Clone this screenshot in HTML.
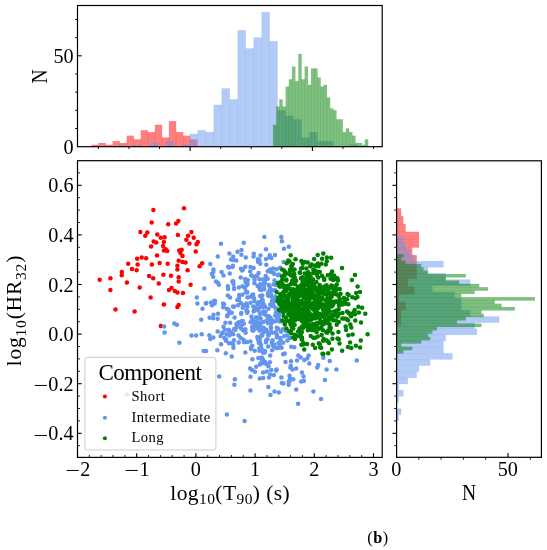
<!DOCTYPE html>
<html><head><meta charset="utf-8"><title>Figure (b)</title>
<style>html,body{margin:0;padding:0;background:#fff}svg{display:block}text{font-family:"Liberation Serif", "DejaVu Serif", serif;fill:#000}</style>
</head><body>
<svg width="547" height="550" viewBox="0 0 547 550">
<rect width="547" height="550" fill="#fff"/>
<g fill="#ff0000" fill-opacity="0.5" stroke="#ff0000" stroke-opacity="0.18" stroke-width="0.5"><rect x="91.60" y="144.88" width="7.04" height="1.82"/><rect x="98.64" y="143.06" width="7.04" height="3.64"/><rect x="105.68" y="144.88" width="7.04" height="1.82"/><rect x="112.72" y="141.25" width="7.04" height="5.45"/><rect x="119.76" y="143.06" width="7.04" height="3.64"/><rect x="126.80" y="135.79" width="7.04" height="10.91"/><rect x="133.84" y="139.43" width="7.04" height="7.27"/><rect x="140.88" y="130.34" width="7.04" height="16.36"/><rect x="147.92" y="132.16" width="7.04" height="14.54"/><rect x="154.96" y="124.88" width="7.04" height="21.82"/><rect x="162.00" y="137.61" width="7.04" height="9.09"/><rect x="169.04" y="121.25" width="7.04" height="25.45"/><rect x="176.08" y="132.16" width="7.04" height="14.54"/><rect x="183.12" y="135.79" width="7.04" height="10.91"/><rect x="190.16" y="139.43" width="7.04" height="7.27"/></g>
<g fill="#6495ed" fill-opacity="0.5" stroke="#6495ed" stroke-opacity="0.18" stroke-width="0.5"><rect x="118.00" y="144.88" width="7.98" height="1.82"/><rect x="133.96" y="144.88" width="7.98" height="1.82"/><rect x="149.92" y="143.06" width="7.98" height="3.64"/><rect x="165.88" y="141.25" width="7.98" height="5.45"/><rect x="181.84" y="144.88" width="7.98" height="1.82"/><rect x="189.82" y="133.97" width="7.98" height="12.73"/><rect x="197.80" y="130.34" width="7.98" height="16.36"/><rect x="205.78" y="132.16" width="7.98" height="14.54"/><rect x="213.76" y="104.89" width="7.98" height="41.81"/><rect x="221.74" y="88.52" width="7.98" height="58.18"/><rect x="229.72" y="99.43" width="7.98" height="47.27"/><rect x="237.70" y="30.35" width="7.98" height="116.35"/><rect x="245.68" y="48.53" width="7.98" height="98.17"/><rect x="253.66" y="37.62" width="7.98" height="109.08"/><rect x="261.64" y="12.17" width="7.98" height="134.53"/><rect x="269.62" y="41.26" width="7.98" height="105.44"/><rect x="277.60" y="110.34" width="7.98" height="36.36"/><rect x="285.58" y="115.79" width="7.98" height="30.91"/><rect x="293.56" y="119.43" width="7.98" height="27.27"/><rect x="301.54" y="137.61" width="7.98" height="9.09"/><rect x="309.52" y="132.16" width="7.98" height="14.54"/><rect x="317.50" y="141.25" width="7.98" height="5.45"/><rect x="325.48" y="141.25" width="7.98" height="5.45"/><rect x="349.42" y="144.88" width="7.98" height="1.82"/></g>
<g fill="#008000" fill-opacity="0.5" stroke="#008000" stroke-opacity="0.18" stroke-width="0.5"><rect x="273.10" y="124.88" width="3.17" height="21.82"/><rect x="276.27" y="106.70" width="3.17" height="40.00"/><rect x="279.43" y="99.43" width="3.17" height="47.27"/><rect x="282.60" y="106.70" width="3.17" height="40.00"/><rect x="285.77" y="86.71" width="3.17" height="59.99"/><rect x="288.94" y="79.43" width="3.17" height="67.27"/><rect x="292.10" y="66.71" width="3.17" height="79.99"/><rect x="295.27" y="81.25" width="3.17" height="65.45"/><rect x="298.44" y="53.98" width="3.17" height="92.72"/><rect x="301.60" y="79.43" width="3.17" height="67.27"/><rect x="304.77" y="66.71" width="3.17" height="79.99"/><rect x="307.94" y="84.89" width="3.17" height="61.81"/><rect x="311.10" y="68.53" width="3.17" height="78.17"/><rect x="314.27" y="68.53" width="3.17" height="78.17"/><rect x="317.44" y="77.62" width="3.17" height="69.08"/><rect x="320.61" y="86.71" width="3.17" height="59.99"/><rect x="323.77" y="84.89" width="3.17" height="61.81"/><rect x="326.94" y="97.61" width="3.17" height="49.09"/><rect x="330.11" y="108.52" width="3.17" height="38.18"/><rect x="333.27" y="110.34" width="3.17" height="36.36"/><rect x="336.44" y="119.43" width="3.17" height="27.27"/><rect x="339.61" y="119.43" width="3.17" height="27.27"/><rect x="342.77" y="132.16" width="3.17" height="14.54"/><rect x="345.94" y="128.52" width="3.17" height="18.18"/><rect x="349.11" y="132.16" width="3.17" height="14.54"/><rect x="352.28" y="135.79" width="3.17" height="10.91"/><rect x="355.44" y="143.06" width="3.17" height="3.64"/><rect x="358.61" y="143.06" width="3.17" height="3.64"/><rect x="361.78" y="144.88" width="3.17" height="1.82"/><rect x="364.94" y="139.43" width="3.17" height="7.27"/></g>
<g fill="#ff0000" fill-opacity="0.5" stroke="#ff0000" stroke-opacity="0.18" stroke-width="0.5"><rect x="396.60" y="208.50" width="4.46" height="7.80"/><rect x="396.60" y="216.30" width="6.69" height="7.80"/><rect x="396.60" y="224.10" width="8.92" height="7.80"/><rect x="396.60" y="231.90" width="22.30" height="7.80"/><rect x="396.60" y="239.70" width="22.30" height="7.80"/><rect x="396.60" y="247.50" width="15.61" height="7.80"/><rect x="396.60" y="255.30" width="20.07" height="7.80"/><rect x="396.60" y="263.10" width="20.07" height="7.80"/><rect x="396.60" y="270.90" width="20.07" height="7.80"/><rect x="396.60" y="278.70" width="11.15" height="7.80"/><rect x="396.60" y="286.50" width="17.84" height="7.80"/><rect x="396.60" y="294.30" width="2.23" height="7.80"/><rect x="396.60" y="302.10" width="8.92" height="7.80"/><rect x="396.60" y="309.90" width="4.46" height="7.80"/><rect x="396.60" y="317.70" width="4.46" height="7.80"/></g>
<g fill="#6495ed" fill-opacity="0.5" stroke="#6495ed" stroke-opacity="0.18" stroke-width="0.5"><rect x="396.60" y="236.60" width="6.69" height="6.14"/><rect x="396.60" y="242.74" width="8.92" height="6.14"/><rect x="396.60" y="248.89" width="13.38" height="6.14"/><rect x="396.60" y="255.03" width="17.84" height="6.14"/><rect x="396.60" y="261.17" width="46.83" height="6.14"/><rect x="396.60" y="267.31" width="31.22" height="6.14"/><rect x="396.60" y="273.46" width="49.06" height="6.14"/><rect x="396.60" y="279.60" width="73.59" height="6.14"/><rect x="396.60" y="285.74" width="35.68" height="6.14"/><rect x="396.60" y="291.89" width="57.98" height="6.14"/><rect x="396.60" y="298.03" width="64.67" height="6.14"/><rect x="396.60" y="304.17" width="64.67" height="6.14"/><rect x="396.60" y="310.32" width="73.59" height="6.14"/><rect x="396.60" y="316.46" width="102.58" height="6.14"/><rect x="396.60" y="322.60" width="78.05" height="6.14"/><rect x="396.60" y="328.75" width="80.28" height="6.14"/><rect x="396.60" y="334.89" width="49.06" height="6.14"/><rect x="396.60" y="341.03" width="46.83" height="6.14"/><rect x="396.60" y="347.17" width="46.83" height="6.14"/><rect x="396.60" y="353.32" width="55.75" height="6.14"/><rect x="396.60" y="359.46" width="33.45" height="6.14"/><rect x="396.60" y="365.60" width="22.30" height="6.14"/><rect x="396.60" y="371.75" width="20.07" height="6.14"/><rect x="396.60" y="377.89" width="11.15" height="6.14"/><rect x="396.60" y="384.03" width="2.23" height="6.14"/><rect x="396.60" y="390.17" width="6.69" height="6.14"/><rect x="396.60" y="396.32" width="2.23" height="6.14"/><rect x="396.60" y="408.60" width="4.46" height="6.14"/><rect x="396.60" y="414.75" width="2.23" height="6.14"/></g>
<g fill="#008000" fill-opacity="0.5" stroke="#008000" stroke-opacity="0.18" stroke-width="0.5"><rect x="396.60" y="254.20" width="6.69" height="3.31"/><rect x="396.60" y="257.51" width="4.46" height="3.31"/><rect x="396.60" y="260.81" width="8.92" height="3.31"/><rect x="396.60" y="264.12" width="24.53" height="3.31"/><rect x="396.60" y="267.43" width="26.76" height="3.31"/><rect x="396.60" y="270.74" width="31.22" height="3.31"/><rect x="396.60" y="274.04" width="69.13" height="3.31"/><rect x="396.60" y="277.35" width="49.06" height="3.31"/><rect x="396.60" y="280.66" width="62.44" height="3.31"/><rect x="396.60" y="283.96" width="82.51" height="3.31"/><rect x="396.60" y="287.27" width="91.43" height="3.31"/><rect x="396.60" y="290.58" width="78.05" height="3.31"/><rect x="396.60" y="293.88" width="64.67" height="3.31"/><rect x="396.60" y="297.19" width="138.26" height="3.31"/><rect x="396.60" y="300.50" width="98.12" height="3.31"/><rect x="396.60" y="303.81" width="104.81" height="3.31"/><rect x="396.60" y="307.11" width="118.19" height="3.31"/><rect x="396.60" y="310.42" width="84.74" height="3.31"/><rect x="396.60" y="313.73" width="86.97" height="3.31"/><rect x="396.60" y="317.03" width="69.13" height="3.31"/><rect x="396.60" y="320.34" width="60.21" height="3.31"/><rect x="396.60" y="323.65" width="84.74" height="3.31"/><rect x="396.60" y="326.95" width="40.14" height="3.31"/><rect x="396.60" y="330.26" width="35.68" height="3.31"/><rect x="396.60" y="333.57" width="31.22" height="3.31"/><rect x="396.60" y="336.88" width="33.45" height="3.31"/><rect x="396.60" y="340.18" width="24.53" height="3.31"/><rect x="396.60" y="343.49" width="4.46" height="3.31"/><rect x="396.60" y="346.80" width="15.61" height="3.31"/><rect x="396.60" y="350.10" width="6.69" height="3.31"/></g>
<g fill="#ff0000"><circle cx="153.4" cy="210.0" r="2.25"/><circle cx="184.0" cy="208.2" r="2.25"/><circle cx="151.7" cy="222.5" r="2.25"/><circle cx="168.2" cy="224.3" r="2.25"/><circle cx="178.4" cy="221.0" r="2.25"/><circle cx="176.1" cy="223.5" r="2.25"/><circle cx="140.4" cy="231.9" r="2.25"/><circle cx="147.3" cy="232.5" r="2.25"/><circle cx="145.3" cy="235.8" r="2.25"/><circle cx="157.3" cy="234.5" r="2.25"/><circle cx="160.8" cy="237.8" r="2.25"/><circle cx="164.6" cy="237.3" r="2.25"/><circle cx="177.9" cy="235.0" r="2.25"/><circle cx="191.4" cy="231.9" r="2.25"/><circle cx="188.1" cy="235.8" r="2.25"/><circle cx="193.7" cy="237.8" r="2.25"/><circle cx="186.3" cy="239.8" r="2.25"/><circle cx="189.4" cy="243.4" r="2.25"/><circle cx="197.8" cy="242.1" r="2.25"/><circle cx="196.5" cy="244.2" r="2.25"/><circle cx="153.7" cy="241.6" r="2.25"/><circle cx="156.2" cy="242.6" r="2.25"/><circle cx="163.9" cy="242.1" r="2.25"/><circle cx="151.1" cy="246.5" r="2.25"/><circle cx="163.1" cy="246.0" r="2.25"/><circle cx="165.7" cy="249.3" r="2.25"/><circle cx="167.2" cy="251.1" r="2.25"/><circle cx="163.9" cy="250.5" r="2.25"/><circle cx="179.2" cy="250.5" r="2.25"/><circle cx="181.7" cy="249.8" r="2.25"/><circle cx="180.4" cy="253.1" r="2.25"/><circle cx="195.7" cy="251.6" r="2.25"/><circle cx="157.0" cy="255.6" r="2.25"/><circle cx="182.5" cy="256.1" r="2.25"/><circle cx="137.1" cy="258.7" r="2.25"/><circle cx="141.7" cy="257.4" r="2.25"/><circle cx="146.1" cy="258.2" r="2.25"/><circle cx="178.7" cy="260.7" r="2.25"/><circle cx="182.5" cy="262.0" r="2.25"/><circle cx="185.5" cy="262.5" r="2.25"/><circle cx="128.2" cy="263.8" r="2.25"/><circle cx="137.6" cy="264.6" r="2.25"/><circle cx="151.9" cy="264.6" r="2.25"/><circle cx="159.6" cy="263.0" r="2.25"/><circle cx="167.7" cy="263.8" r="2.25"/><circle cx="177.4" cy="265.8" r="2.25"/><circle cx="202.1" cy="263.3" r="2.25"/><circle cx="199.6" cy="266.3" r="2.25"/><circle cx="132.0" cy="268.9" r="2.25"/><circle cx="136.6" cy="270.2" r="2.25"/><circle cx="177.4" cy="269.4" r="2.25"/><circle cx="187.6" cy="270.2" r="2.25"/><circle cx="121.8" cy="271.9" r="2.25"/><circle cx="121.8" cy="275.3" r="2.25"/><circle cx="149.1" cy="276.0" r="2.25"/><circle cx="153.2" cy="278.3" r="2.25"/><circle cx="163.4" cy="274.7" r="2.25"/><circle cx="171.0" cy="275.8" r="2.25"/><circle cx="178.7" cy="277.3" r="2.25"/><circle cx="99.7" cy="279.8" r="2.25"/><circle cx="110.4" cy="278.3" r="2.25"/><circle cx="126.9" cy="282.4" r="2.25"/><circle cx="158.8" cy="283.4" r="2.25"/><circle cx="178.7" cy="281.6" r="2.25"/><circle cx="190.6" cy="284.7" r="2.25"/><circle cx="110.4" cy="290.0" r="2.25"/><circle cx="139.7" cy="287.5" r="2.25"/><circle cx="169.0" cy="290.0" r="2.25"/><circle cx="171.5" cy="288.0" r="2.25"/><circle cx="174.8" cy="291.1" r="2.25"/><circle cx="177.4" cy="292.6" r="2.25"/><circle cx="183.0" cy="293.1" r="2.25"/><circle cx="150.6" cy="297.4" r="2.25"/><circle cx="163.9" cy="304.6" r="2.25"/><circle cx="178.7" cy="305.1" r="2.25"/><circle cx="177.4" cy="307.1" r="2.25"/><circle cx="115.5" cy="309.6" r="2.25"/><circle cx="134.6" cy="311.4" r="2.25"/><circle cx="160.8" cy="326.0" r="2.25"/></g>
<g fill="#6495ed"><circle cx="267.5" cy="339.3" r="2.25"/><circle cx="269.8" cy="287.1" r="2.25"/><circle cx="244.9" cy="288.1" r="2.25"/><circle cx="271.2" cy="323.5" r="2.25"/><circle cx="253.5" cy="256.4" r="2.25"/><circle cx="253.7" cy="311.4" r="2.25"/><circle cx="265.0" cy="306.7" r="2.25"/><circle cx="281.9" cy="241.3" r="2.25"/><circle cx="255.0" cy="371.7" r="2.25"/><circle cx="252.4" cy="359.2" r="2.25"/><circle cx="211.8" cy="273.9" r="2.25"/><circle cx="260.3" cy="313.7" r="2.25"/><circle cx="247.6" cy="283.9" r="2.25"/><circle cx="251.3" cy="275.4" r="2.25"/><circle cx="218.9" cy="284.8" r="2.25"/><circle cx="283.4" cy="383.5" r="2.25"/><circle cx="266.1" cy="340.4" r="2.25"/><circle cx="242.7" cy="321.1" r="2.25"/><circle cx="263.8" cy="352.3" r="2.25"/><circle cx="270.2" cy="374.5" r="2.25"/><circle cx="246.8" cy="305.1" r="2.25"/><circle cx="272.1" cy="332.8" r="2.25"/><circle cx="260.9" cy="363.2" r="2.25"/><circle cx="272.1" cy="301.4" r="2.25"/><circle cx="291.0" cy="361.2" r="2.25"/><circle cx="296.2" cy="389.4" r="2.25"/><circle cx="261.7" cy="358.9" r="2.25"/><circle cx="292.6" cy="369.6" r="2.25"/><circle cx="238.7" cy="322.2" r="2.25"/><circle cx="252.4" cy="329.5" r="2.25"/><circle cx="217.6" cy="318.7" r="2.25"/><circle cx="260.1" cy="296.0" r="2.25"/><circle cx="250.2" cy="271.5" r="2.25"/><circle cx="260.0" cy="337.8" r="2.25"/><circle cx="239.0" cy="297.8" r="2.25"/><circle cx="231.7" cy="356.6" r="2.25"/><circle cx="247.3" cy="306.8" r="2.25"/><circle cx="260.7" cy="318.8" r="2.25"/><circle cx="228.8" cy="329.8" r="2.25"/><circle cx="254.4" cy="283.2" r="2.25"/><circle cx="233.2" cy="344.2" r="2.25"/><circle cx="233.4" cy="347.7" r="2.25"/><circle cx="274.5" cy="280.6" r="2.25"/><circle cx="276.1" cy="370.5" r="2.25"/><circle cx="257.1" cy="275.9" r="2.25"/><circle cx="257.3" cy="325.5" r="2.25"/><circle cx="238.7" cy="342.6" r="2.25"/><circle cx="252.2" cy="345.7" r="2.25"/><circle cx="242.4" cy="286.2" r="2.25"/><circle cx="268.2" cy="346.6" r="2.25"/><circle cx="274.3" cy="273.9" r="2.25"/><circle cx="210.2" cy="339.1" r="2.25"/><circle cx="254.6" cy="279.7" r="2.25"/><circle cx="229.8" cy="273.4" r="2.25"/><circle cx="253.8" cy="253.7" r="2.25"/><circle cx="267.9" cy="320.1" r="2.25"/><circle cx="266.8" cy="364.2" r="2.25"/><circle cx="266.3" cy="264.8" r="2.25"/><circle cx="253.6" cy="268.1" r="2.25"/><circle cx="289.4" cy="381.4" r="2.25"/><circle cx="250.2" cy="297.1" r="2.25"/><circle cx="230.1" cy="334.0" r="2.25"/><circle cx="277.1" cy="336.0" r="2.25"/><circle cx="213.3" cy="337.4" r="2.25"/><circle cx="262.1" cy="328.6" r="2.25"/><circle cx="263.2" cy="311.6" r="2.25"/><circle cx="278.4" cy="329.0" r="2.25"/><circle cx="247.5" cy="280.1" r="2.25"/><circle cx="260.1" cy="307.2" r="2.25"/><circle cx="318.2" cy="365.0" r="2.25"/><circle cx="240.8" cy="303.1" r="2.25"/><circle cx="271.1" cy="296.0" r="2.25"/><circle cx="266.9" cy="371.5" r="2.25"/><circle cx="261.0" cy="349.0" r="2.25"/><circle cx="216.0" cy="281.5" r="2.25"/><circle cx="209.6" cy="317.7" r="2.25"/><circle cx="240.7" cy="277.5" r="2.25"/><circle cx="285.5" cy="361.9" r="2.25"/><circle cx="256.4" cy="322.0" r="2.25"/><circle cx="279.7" cy="344.7" r="2.25"/><circle cx="234.0" cy="340.3" r="2.25"/><circle cx="238.9" cy="287.6" r="2.25"/><circle cx="234.4" cy="384.7" r="2.25"/><circle cx="276.5" cy="269.2" r="2.25"/><circle cx="234.1" cy="329.0" r="2.25"/><circle cx="258.0" cy="261.7" r="2.25"/><circle cx="294.3" cy="347.3" r="2.25"/><circle cx="243.1" cy="330.3" r="2.25"/><circle cx="250.4" cy="390.4" r="2.25"/><circle cx="257.8" cy="309.6" r="2.25"/><circle cx="256.2" cy="366.8" r="2.25"/><circle cx="213.1" cy="318.2" r="2.25"/><circle cx="275.7" cy="321.2" r="2.25"/><circle cx="244.1" cy="342.2" r="2.25"/><circle cx="241.0" cy="328.2" r="2.25"/><circle cx="254.1" cy="298.3" r="2.25"/><circle cx="263.0" cy="359.7" r="2.25"/><circle cx="241.3" cy="325.9" r="2.25"/><circle cx="237.3" cy="300.0" r="2.25"/><circle cx="267.8" cy="271.2" r="2.25"/><circle cx="259.5" cy="279.2" r="2.25"/><circle cx="247.4" cy="297.4" r="2.25"/><circle cx="250.6" cy="302.8" r="2.25"/><circle cx="234.9" cy="379.2" r="2.25"/><circle cx="246.7" cy="285.2" r="2.25"/><circle cx="263.2" cy="377.9" r="2.25"/><circle cx="253.3" cy="306.4" r="2.25"/><circle cx="263.1" cy="372.5" r="2.25"/><circle cx="270.4" cy="271.6" r="2.25"/><circle cx="221.1" cy="344.3" r="2.25"/><circle cx="263.2" cy="322.0" r="2.25"/><circle cx="210.3" cy="264.0" r="2.25"/><circle cx="275.1" cy="290.2" r="2.25"/><circle cx="228.2" cy="266.7" r="2.25"/><circle cx="214.3" cy="300.8" r="2.25"/><circle cx="226.7" cy="308.8" r="2.25"/><circle cx="262.3" cy="295.4" r="2.25"/><circle cx="228.1" cy="289.1" r="2.25"/><circle cx="227.9" cy="286.3" r="2.25"/><circle cx="213.5" cy="269.6" r="2.25"/><circle cx="238.4" cy="323.2" r="2.25"/><circle cx="225.9" cy="339.3" r="2.25"/><circle cx="242.8" cy="307.8" r="2.25"/><circle cx="227.2" cy="316.3" r="2.25"/><circle cx="236.4" cy="324.1" r="2.25"/><circle cx="265.5" cy="331.0" r="2.25"/><circle cx="232.9" cy="265.7" r="2.25"/><circle cx="272.6" cy="290.3" r="2.25"/><circle cx="283.2" cy="342.7" r="2.25"/><circle cx="269.9" cy="362.2" r="2.25"/><circle cx="279.2" cy="315.0" r="2.25"/><circle cx="259.6" cy="317.7" r="2.25"/><circle cx="266.3" cy="329.8" r="2.25"/><circle cx="222.2" cy="332.8" r="2.25"/><circle cx="288.8" cy="246.7" r="2.25"/><circle cx="257.9" cy="259.3" r="2.25"/><circle cx="269.9" cy="322.4" r="2.25"/><circle cx="255.9" cy="327.8" r="2.25"/><circle cx="240.9" cy="268.7" r="2.25"/><circle cx="223.0" cy="303.5" r="2.25"/><circle cx="279.6" cy="321.6" r="2.25"/><circle cx="272.6" cy="340.2" r="2.25"/><circle cx="243.6" cy="339.7" r="2.25"/><circle cx="260.1" cy="324.6" r="2.25"/><circle cx="254.1" cy="310.1" r="2.25"/><circle cx="229.4" cy="335.6" r="2.25"/><circle cx="227.5" cy="315.3" r="2.25"/><circle cx="273.7" cy="306.0" r="2.25"/><circle cx="261.5" cy="348.6" r="2.25"/><circle cx="261.1" cy="345.0" r="2.25"/><circle cx="260.5" cy="255.4" r="2.25"/><circle cx="263.6" cy="307.1" r="2.25"/><circle cx="272.1" cy="321.4" r="2.25"/><circle cx="264.8" cy="352.5" r="2.25"/><circle cx="303.9" cy="380.9" r="2.25"/><circle cx="257.4" cy="304.1" r="2.25"/><circle cx="250.4" cy="341.6" r="2.25"/><circle cx="250.1" cy="368.6" r="2.25"/><circle cx="260.4" cy="325.7" r="2.25"/><circle cx="265.7" cy="276.0" r="2.25"/><circle cx="253.3" cy="320.0" r="2.25"/><circle cx="278.5" cy="343.0" r="2.25"/><circle cx="231.5" cy="343.3" r="2.25"/><circle cx="254.4" cy="301.3" r="2.25"/><circle cx="243.1" cy="305.0" r="2.25"/><circle cx="276.0" cy="312.6" r="2.25"/><circle cx="268.3" cy="387.0" r="2.25"/><circle cx="245.4" cy="329.3" r="2.25"/><circle cx="276.6" cy="369.6" r="2.25"/><circle cx="247.3" cy="311.2" r="2.25"/><circle cx="259.3" cy="285.9" r="2.25"/><circle cx="263.0" cy="330.0" r="2.25"/><circle cx="264.2" cy="289.3" r="2.25"/><circle cx="281.6" cy="347.8" r="2.25"/><circle cx="247.7" cy="280.5" r="2.25"/><circle cx="284.0" cy="248.8" r="2.25"/><circle cx="277.1" cy="337.3" r="2.25"/><circle cx="253.5" cy="330.4" r="2.25"/><circle cx="273.0" cy="321.7" r="2.25"/><circle cx="242.3" cy="294.7" r="2.25"/><circle cx="264.7" cy="279.8" r="2.25"/><circle cx="269.9" cy="290.1" r="2.25"/><circle cx="239.0" cy="299.8" r="2.25"/><circle cx="224.4" cy="338.0" r="2.25"/><circle cx="215.1" cy="300.9" r="2.25"/><circle cx="257.5" cy="318.0" r="2.25"/><circle cx="254.7" cy="350.7" r="2.25"/><circle cx="280.4" cy="338.0" r="2.25"/><circle cx="278.1" cy="275.3" r="2.25"/><circle cx="270.2" cy="355.4" r="2.25"/><circle cx="259.0" cy="322.4" r="2.25"/><circle cx="273.4" cy="272.9" r="2.25"/><circle cx="267.7" cy="278.7" r="2.25"/><circle cx="233.1" cy="306.4" r="2.25"/><circle cx="276.6" cy="334.5" r="2.25"/><circle cx="281.4" cy="377.6" r="2.25"/><circle cx="268.8" cy="320.0" r="2.25"/><circle cx="297.0" cy="360.4" r="2.25"/><circle cx="265.7" cy="279.1" r="2.25"/><circle cx="253.8" cy="321.5" r="2.25"/><circle cx="271.3" cy="257.9" r="2.25"/><circle cx="284.8" cy="353.4" r="2.25"/><circle cx="290.0" cy="378.5" r="2.25"/><circle cx="234.1" cy="306.8" r="2.25"/><circle cx="262.2" cy="335.3" r="2.25"/><circle cx="276.2" cy="316.2" r="2.25"/><circle cx="229.1" cy="330.6" r="2.25"/><circle cx="257.8" cy="338.7" r="2.25"/><circle cx="272.7" cy="305.5" r="2.25"/><circle cx="242.5" cy="269.7" r="2.25"/><circle cx="231.0" cy="259.4" r="2.25"/><circle cx="263.2" cy="327.7" r="2.25"/><circle cx="274.6" cy="301.3" r="2.25"/><circle cx="218.0" cy="313.8" r="2.25"/><circle cx="278.0" cy="348.0" r="2.25"/><circle cx="259.2" cy="343.2" r="2.25"/><circle cx="238.0" cy="305.2" r="2.25"/><circle cx="229.4" cy="253.5" r="2.25"/><circle cx="241.5" cy="249.9" r="2.25"/><circle cx="255.8" cy="307.4" r="2.25"/><circle cx="263.2" cy="305.7" r="2.25"/><circle cx="225.8" cy="353.2" r="2.25"/><circle cx="260.0" cy="341.6" r="2.25"/><circle cx="237.5" cy="251.7" r="2.25"/><circle cx="217.8" cy="282.8" r="2.25"/><circle cx="253.1" cy="294.6" r="2.25"/><circle cx="224.1" cy="304.3" r="2.25"/><circle cx="246.9" cy="291.8" r="2.25"/><circle cx="270.0" cy="269.4" r="2.25"/><circle cx="246.4" cy="303.5" r="2.25"/><circle cx="243.8" cy="242.8" r="2.25"/><circle cx="264.1" cy="328.5" r="2.25"/><circle cx="223.2" cy="307.2" r="2.25"/><circle cx="270.0" cy="271.0" r="2.25"/><circle cx="226.6" cy="334.2" r="2.25"/><circle cx="278.2" cy="318.3" r="2.25"/><circle cx="221.6" cy="272.1" r="2.25"/><circle cx="253.2" cy="276.5" r="2.25"/><circle cx="262.7" cy="359.6" r="2.25"/><circle cx="264.1" cy="363.2" r="2.25"/><circle cx="228.4" cy="309.4" r="2.25"/><circle cx="290.4" cy="367.7" r="2.25"/><circle cx="245.5" cy="281.9" r="2.25"/><circle cx="230.1" cy="297.5" r="2.25"/><circle cx="260.2" cy="263.7" r="2.25"/><circle cx="245.3" cy="266.7" r="2.25"/><circle cx="213.2" cy="276.7" r="2.25"/><circle cx="265.9" cy="342.2" r="2.25"/><circle cx="260.5" cy="302.0" r="2.25"/><circle cx="298.1" cy="403.8" r="2.25"/><circle cx="247.2" cy="312.8" r="2.25"/><circle cx="273.2" cy="298.2" r="2.25"/><circle cx="206.1" cy="351.0" r="2.25"/><circle cx="293.2" cy="379.3" r="2.25"/><circle cx="213.3" cy="271.9" r="2.25"/><circle cx="272.1" cy="350.3" r="2.25"/><circle cx="296.2" cy="368.6" r="2.25"/><circle cx="211.9" cy="305.3" r="2.25"/><circle cx="217.6" cy="331.5" r="2.25"/><circle cx="241.1" cy="321.5" r="2.25"/><circle cx="225.4" cy="322.7" r="2.25"/><circle cx="243.9" cy="323.8" r="2.25"/><circle cx="252.2" cy="327.1" r="2.25"/><circle cx="270.5" cy="394.9" r="2.25"/><circle cx="217.8" cy="256.5" r="2.25"/><circle cx="259.9" cy="364.4" r="2.25"/><circle cx="230.1" cy="322.8" r="2.25"/><circle cx="269.6" cy="257.3" r="2.25"/><circle cx="245.6" cy="332.8" r="2.25"/><circle cx="264.1" cy="286.0" r="2.25"/><circle cx="247.0" cy="342.0" r="2.25"/><circle cx="266.0" cy="249.2" r="2.25"/><circle cx="206.4" cy="303.0" r="2.25"/><circle cx="264.0" cy="305.2" r="2.25"/><circle cx="259.3" cy="348.6" r="2.25"/><circle cx="231.1" cy="332.4" r="2.25"/><circle cx="226.0" cy="340.8" r="2.25"/><circle cx="271.1" cy="332.1" r="2.25"/><circle cx="229.0" cy="267.4" r="2.25"/><circle cx="250.5" cy="376.7" r="2.25"/><circle cx="236.3" cy="260.6" r="2.25"/><circle cx="247.2" cy="312.0" r="2.25"/><circle cx="273.0" cy="302.9" r="2.25"/><circle cx="233.1" cy="256.5" r="2.25"/><circle cx="270.8" cy="326.9" r="2.25"/><circle cx="276.1" cy="347.9" r="2.25"/><circle cx="276.9" cy="337.0" r="2.25"/><circle cx="259.5" cy="350.8" r="2.25"/><circle cx="266.9" cy="316.1" r="2.25"/><circle cx="289.5" cy="375.8" r="2.25"/><circle cx="281.9" cy="383.1" r="2.25"/><circle cx="220.6" cy="335.9" r="2.25"/><circle cx="217.3" cy="350.2" r="2.25"/><circle cx="238.6" cy="335.4" r="2.25"/><circle cx="259.7" cy="287.7" r="2.25"/><circle cx="251.5" cy="316.5" r="2.25"/><circle cx="283.1" cy="354.2" r="2.25"/><circle cx="265.5" cy="311.8" r="2.25"/><circle cx="245.1" cy="279.1" r="2.25"/><circle cx="258.6" cy="273.1" r="2.25"/><circle cx="241.4" cy="254.7" r="2.25"/><circle cx="260.0" cy="313.4" r="2.25"/><circle cx="259.3" cy="260.3" r="2.25"/><circle cx="281.0" cy="331.7" r="2.25"/><circle cx="274.5" cy="391.5" r="2.25"/><circle cx="223.5" cy="275.6" r="2.25"/><circle cx="263.0" cy="352.5" r="2.25"/><circle cx="265.0" cy="282.7" r="2.25"/><circle cx="250.5" cy="266.9" r="2.25"/><circle cx="233.5" cy="283.9" r="2.25"/><circle cx="258.8" cy="322.9" r="2.25"/><circle cx="259.9" cy="289.4" r="2.25"/><circle cx="298.3" cy="355.6" r="2.25"/><circle cx="259.9" cy="287.9" r="2.25"/><circle cx="272.3" cy="300.9" r="2.25"/><circle cx="227.8" cy="295.4" r="2.25"/><circle cx="245.8" cy="257.4" r="2.25"/><circle cx="275.0" cy="255.1" r="2.25"/><circle cx="245.8" cy="292.2" r="2.25"/><circle cx="272.8" cy="345.3" r="2.25"/><circle cx="242.1" cy="270.4" r="2.25"/><circle cx="262.1" cy="299.6" r="2.25"/><circle cx="234.1" cy="287.9" r="2.25"/><circle cx="258.3" cy="302.2" r="2.25"/><circle cx="270.3" cy="304.6" r="2.25"/><circle cx="275.8" cy="332.2" r="2.25"/><circle cx="214.6" cy="303.6" r="2.25"/><circle cx="234.1" cy="289.1" r="2.25"/><circle cx="234.6" cy="317.6" r="2.25"/><circle cx="242.8" cy="269.6" r="2.25"/><circle cx="229.3" cy="311.9" r="2.25"/><circle cx="233.1" cy="260.1" r="2.25"/><circle cx="267.8" cy="323.0" r="2.25"/><circle cx="232.5" cy="266.9" r="2.25"/><circle cx="231.8" cy="312.7" r="2.25"/><circle cx="241.1" cy="313.7" r="2.25"/><circle cx="251.1" cy="347.2" r="2.25"/><circle cx="300.7" cy="357.4" r="2.25"/><circle cx="269.7" cy="322.7" r="2.25"/><circle cx="265.0" cy="361.9" r="2.25"/><circle cx="258.3" cy="328.7" r="2.25"/><circle cx="268.5" cy="366.3" r="2.25"/><circle cx="253.9" cy="324.1" r="2.25"/><circle cx="229.0" cy="343.3" r="2.25"/><circle cx="257.6" cy="286.1" r="2.25"/><circle cx="271.8" cy="342.8" r="2.25"/><circle cx="269.7" cy="291.1" r="2.25"/><circle cx="229.3" cy="313.1" r="2.25"/><circle cx="241.4" cy="313.1" r="2.25"/><circle cx="246.5" cy="310.3" r="2.25"/><circle cx="240.6" cy="338.1" r="2.25"/><circle cx="280.5" cy="340.0" r="2.25"/><circle cx="261.8" cy="357.6" r="2.25"/><circle cx="245.3" cy="352.4" r="2.25"/><circle cx="261.4" cy="335.2" r="2.25"/><circle cx="269.7" cy="270.2" r="2.25"/><circle cx="259.6" cy="330.4" r="2.25"/><circle cx="252.0" cy="369.9" r="2.25"/><circle cx="224.9" cy="329.8" r="2.25"/><circle cx="269.0" cy="316.3" r="2.25"/><circle cx="271.8" cy="305.6" r="2.25"/><circle cx="263.4" cy="332.4" r="2.25"/><circle cx="236.8" cy="326.8" r="2.25"/><circle cx="223.5" cy="326.7" r="2.25"/><circle cx="282.9" cy="329.2" r="2.25"/><circle cx="252.5" cy="330.5" r="2.25"/><circle cx="231.6" cy="332.8" r="2.25"/><circle cx="263.3" cy="283.9" r="2.25"/><circle cx="247.2" cy="292.6" r="2.25"/><circle cx="239.1" cy="295.0" r="2.25"/><circle cx="211.0" cy="302.5" r="2.25"/><circle cx="209.4" cy="335.2" r="2.25"/><circle cx="256.0" cy="323.0" r="2.25"/><circle cx="235.4" cy="329.8" r="2.25"/><circle cx="233.2" cy="281.3" r="2.25"/><circle cx="270.0" cy="270.2" r="2.25"/><circle cx="265.0" cy="350.9" r="2.25"/><circle cx="251.0" cy="348.9" r="2.25"/><circle cx="213.5" cy="314.8" r="2.25"/><circle cx="258.3" cy="357.9" r="2.25"/><circle cx="271.0" cy="328.0" r="2.25"/><circle cx="271.5" cy="271.8" r="2.25"/><circle cx="233.2" cy="334.3" r="2.25"/><circle cx="273.1" cy="268.5" r="2.25"/><circle cx="271.2" cy="369.9" r="2.25"/><circle cx="268.5" cy="308.7" r="2.25"/><circle cx="270.7" cy="318.1" r="2.25"/><circle cx="263.1" cy="303.4" r="2.25"/><circle cx="252.0" cy="295.3" r="2.25"/><circle cx="268.7" cy="335.0" r="2.25"/><circle cx="261.3" cy="289.9" r="2.25"/><circle cx="232.4" cy="281.6" r="2.25"/><circle cx="256.6" cy="276.0" r="2.25"/><circle cx="257.3" cy="337.0" r="2.25"/><circle cx="262.8" cy="279.5" r="2.25"/><circle cx="222.6" cy="333.3" r="2.25"/><circle cx="287.2" cy="335.4" r="2.25"/><circle cx="272.1" cy="306.1" r="2.25"/><circle cx="261.3" cy="303.3" r="2.25"/><circle cx="289.8" cy="338.0" r="2.25"/><circle cx="307.2" cy="358.5" r="2.25"/><circle cx="264.3" cy="314.3" r="2.25"/><circle cx="284.2" cy="335.9" r="2.25"/><circle cx="278.6" cy="312.5" r="2.25"/><circle cx="278.9" cy="274.4" r="2.25"/><circle cx="279.3" cy="319.3" r="2.25"/><circle cx="287.4" cy="340.5" r="2.25"/><circle cx="272.6" cy="299.5" r="2.25"/><circle cx="274.3" cy="344.4" r="2.25"/><circle cx="275.6" cy="284.9" r="2.25"/><circle cx="268.0" cy="294.9" r="2.25"/><circle cx="250.6" cy="322.3" r="2.25"/><circle cx="270.5" cy="322.9" r="2.25"/><circle cx="291.2" cy="346.8" r="2.25"/><circle cx="277.3" cy="317.3" r="2.25"/><circle cx="252.1" cy="320.0" r="2.25"/><circle cx="260.2" cy="284.3" r="2.25"/><circle cx="272.5" cy="320.4" r="2.25"/><circle cx="309.3" cy="363.5" r="2.25"/><circle cx="258.2" cy="310.4" r="2.25"/><circle cx="267.6" cy="332.1" r="2.25"/><circle cx="276.7" cy="327.7" r="2.25"/><circle cx="317.2" cy="367.5" r="2.25"/><circle cx="269.7" cy="255.2" r="2.25"/><circle cx="283.6" cy="262.1" r="2.25"/><circle cx="271.3" cy="296.0" r="2.25"/><circle cx="275.5" cy="308.1" r="2.25"/><circle cx="282.3" cy="321.4" r="2.25"/><circle cx="268.3" cy="335.1" r="2.25"/><circle cx="268.8" cy="296.0" r="2.25"/><circle cx="304.3" cy="360.0" r="2.25"/><circle cx="266.4" cy="320.8" r="2.25"/><circle cx="260.9" cy="296.3" r="2.25"/><circle cx="280.1" cy="267.7" r="2.25"/><circle cx="276.3" cy="309.0" r="2.25"/><circle cx="275.2" cy="315.4" r="2.25"/><circle cx="256.2" cy="317.3" r="2.25"/><circle cx="308.6" cy="355.5" r="2.25"/><circle cx="262.6" cy="300.2" r="2.25"/><circle cx="290.8" cy="365.7" r="2.25"/><circle cx="268.3" cy="292.6" r="2.25"/><circle cx="286.0" cy="331.1" r="2.25"/><circle cx="268.0" cy="293.4" r="2.25"/><circle cx="278.7" cy="311.7" r="2.25"/><circle cx="273.6" cy="284.2" r="2.25"/><circle cx="275.4" cy="296.4" r="2.25"/><circle cx="271.0" cy="294.2" r="2.25"/><circle cx="273.6" cy="346.3" r="2.25"/><circle cx="266.0" cy="258.9" r="2.25"/><circle cx="279.4" cy="347.2" r="2.25"/><circle cx="274.9" cy="300.7" r="2.25"/><circle cx="268.8" cy="284.9" r="2.25"/><circle cx="258.6" cy="341.6" r="2.25"/><circle cx="174.3" cy="323.5" r="2.25"/><circle cx="176.9" cy="324.8" r="2.25"/><circle cx="164.1" cy="326.6" r="2.25"/><circle cx="164.6" cy="332.5" r="2.25"/><circle cx="191.5" cy="335.6" r="2.25"/><circle cx="196.1" cy="335.6" r="2.25"/><circle cx="179.4" cy="342.7" r="2.25"/><circle cx="196.8" cy="297.4" r="2.25"/><circle cx="197.4" cy="303.6" r="2.25"/><circle cx="201.7" cy="334.3" r="2.25"/><circle cx="203.7" cy="350.9" r="2.25"/><circle cx="204.3" cy="288.5" r="2.25"/><circle cx="202.5" cy="308.7" r="2.25"/><circle cx="205.8" cy="303.6" r="2.25"/><circle cx="201.2" cy="319.7" r="2.25"/><circle cx="126.8" cy="394.4" r="2.25"/><circle cx="144.0" cy="413.8" r="2.25"/><circle cx="219.2" cy="376.4" r="2.25"/><circle cx="226.9" cy="414.4" r="2.25"/><circle cx="244.6" cy="421.0" r="2.25"/><circle cx="264.4" cy="237.0" r="2.25"/><circle cx="281.3" cy="237.0" r="2.25"/><circle cx="220.9" cy="243.7" r="2.25"/><circle cx="356.8" cy="360.5" r="2.25"/><circle cx="288.7" cy="381.5" r="2.25"/><circle cx="288.7" cy="384.8" r="2.25"/><circle cx="301.9" cy="372.6" r="2.25"/><circle cx="303.5" cy="376.6" r="2.25"/><circle cx="301.2" cy="381.5" r="2.25"/><circle cx="313.4" cy="391.4" r="2.25"/><circle cx="321.0" cy="399.0" r="2.25"/><circle cx="324.9" cy="379.9" r="2.25"/><circle cx="326.6" cy="369.4" r="2.25"/><circle cx="336.4" cy="369.4" r="2.25"/><circle cx="329.8" cy="361.1" r="2.25"/><circle cx="323.3" cy="357.8" r="2.25"/><circle cx="278.8" cy="392.4" r="2.25"/><circle cx="273.9" cy="375.0" r="2.25"/><circle cx="269.0" cy="377.6" r="2.25"/><circle cx="259.8" cy="378.6" r="2.25"/></g>
<g fill="#008000"><circle cx="307.9" cy="330.2" r="2.25"/><circle cx="297.1" cy="300.9" r="2.25"/><circle cx="297.1" cy="299.4" r="2.25"/><circle cx="295.0" cy="284.3" r="2.25"/><circle cx="294.9" cy="334.7" r="2.25"/><circle cx="331.8" cy="315.0" r="2.25"/><circle cx="313.1" cy="308.0" r="2.25"/><circle cx="301.4" cy="261.0" r="2.25"/><circle cx="290.0" cy="293.4" r="2.25"/><circle cx="288.9" cy="313.4" r="2.25"/><circle cx="279.5" cy="309.5" r="2.25"/><circle cx="277.5" cy="300.7" r="2.25"/><circle cx="309.2" cy="288.2" r="2.25"/><circle cx="313.6" cy="269.4" r="2.25"/><circle cx="313.3" cy="337.8" r="2.25"/><circle cx="282.0" cy="301.7" r="2.25"/><circle cx="279.6" cy="286.4" r="2.25"/><circle cx="312.8" cy="344.8" r="2.25"/><circle cx="284.8" cy="301.5" r="2.25"/><circle cx="304.4" cy="318.3" r="2.25"/><circle cx="295.0" cy="293.4" r="2.25"/><circle cx="294.2" cy="313.8" r="2.25"/><circle cx="303.1" cy="315.5" r="2.25"/><circle cx="278.6" cy="302.2" r="2.25"/><circle cx="284.5" cy="291.7" r="2.25"/><circle cx="290.2" cy="313.2" r="2.25"/><circle cx="308.3" cy="326.9" r="2.25"/><circle cx="287.7" cy="285.7" r="2.25"/><circle cx="281.3" cy="282.3" r="2.25"/><circle cx="292.6" cy="299.4" r="2.25"/><circle cx="299.3" cy="296.2" r="2.25"/><circle cx="297.5" cy="336.0" r="2.25"/><circle cx="299.8" cy="272.6" r="2.25"/><circle cx="279.7" cy="282.6" r="2.25"/><circle cx="287.7" cy="296.7" r="2.25"/><circle cx="327.8" cy="321.4" r="2.25"/><circle cx="330.8" cy="327.9" r="2.25"/><circle cx="304.5" cy="279.6" r="2.25"/><circle cx="291.7" cy="321.3" r="2.25"/><circle cx="300.6" cy="318.5" r="2.25"/><circle cx="288.4" cy="314.3" r="2.25"/><circle cx="305.0" cy="323.3" r="2.25"/><circle cx="282.3" cy="279.4" r="2.25"/><circle cx="318.5" cy="266.3" r="2.25"/><circle cx="287.7" cy="304.0" r="2.25"/><circle cx="279.3" cy="310.2" r="2.25"/><circle cx="294.5" cy="318.7" r="2.25"/><circle cx="279.2" cy="301.4" r="2.25"/><circle cx="279.5" cy="286.1" r="2.25"/><circle cx="293.2" cy="296.9" r="2.25"/><circle cx="282.1" cy="269.6" r="2.25"/><circle cx="291.5" cy="265.4" r="2.25"/><circle cx="277.7" cy="283.1" r="2.25"/><circle cx="283.1" cy="296.2" r="2.25"/><circle cx="295.2" cy="297.4" r="2.25"/><circle cx="313.9" cy="317.5" r="2.25"/><circle cx="283.6" cy="315.9" r="2.25"/><circle cx="294.3" cy="281.1" r="2.25"/><circle cx="303.6" cy="343.2" r="2.25"/><circle cx="284.0" cy="270.6" r="2.25"/><circle cx="308.8" cy="279.1" r="2.25"/><circle cx="315.4" cy="315.9" r="2.25"/><circle cx="279.6" cy="304.4" r="2.25"/><circle cx="293.4" cy="320.0" r="2.25"/><circle cx="286.2" cy="317.9" r="2.25"/><circle cx="276.6" cy="292.0" r="2.25"/><circle cx="304.5" cy="295.9" r="2.25"/><circle cx="302.6" cy="281.7" r="2.25"/><circle cx="282.1" cy="276.2" r="2.25"/><circle cx="288.6" cy="302.3" r="2.25"/><circle cx="279.4" cy="283.4" r="2.25"/><circle cx="327.6" cy="289.3" r="2.25"/><circle cx="300.8" cy="333.0" r="2.25"/><circle cx="282.3" cy="320.6" r="2.25"/><circle cx="332.0" cy="294.3" r="2.25"/><circle cx="283.1" cy="312.3" r="2.25"/><circle cx="277.9" cy="299.4" r="2.25"/><circle cx="286.0" cy="302.2" r="2.25"/><circle cx="309.1" cy="303.0" r="2.25"/><circle cx="293.2" cy="328.5" r="2.25"/><circle cx="280.1" cy="294.0" r="2.25"/><circle cx="293.4" cy="309.9" r="2.25"/><circle cx="290.9" cy="275.2" r="2.25"/><circle cx="306.7" cy="312.4" r="2.25"/><circle cx="336.7" cy="313.7" r="2.25"/><circle cx="280.7" cy="297.3" r="2.25"/><circle cx="284.7" cy="274.1" r="2.25"/><circle cx="291.8" cy="305.7" r="2.25"/><circle cx="294.9" cy="304.4" r="2.25"/><circle cx="321.2" cy="347.8" r="2.25"/><circle cx="283.5" cy="291.9" r="2.25"/><circle cx="287.1" cy="304.1" r="2.25"/><circle cx="284.5" cy="275.6" r="2.25"/><circle cx="291.7" cy="266.3" r="2.25"/><circle cx="303.6" cy="288.6" r="2.25"/><circle cx="303.9" cy="344.2" r="2.25"/><circle cx="294.7" cy="324.8" r="2.25"/><circle cx="293.1" cy="337.6" r="2.25"/><circle cx="316.9" cy="306.3" r="2.25"/><circle cx="319.7" cy="298.1" r="2.25"/><circle cx="314.2" cy="287.1" r="2.25"/><circle cx="315.6" cy="310.1" r="2.25"/><circle cx="346.5" cy="319.0" r="2.25"/><circle cx="339.0" cy="313.8" r="2.25"/><circle cx="324.1" cy="307.7" r="2.25"/><circle cx="324.3" cy="286.5" r="2.25"/><circle cx="330.9" cy="274.1" r="2.25"/><circle cx="300.4" cy="289.9" r="2.25"/><circle cx="325.8" cy="264.4" r="2.25"/><circle cx="296.1" cy="280.7" r="2.25"/><circle cx="308.1" cy="300.9" r="2.25"/><circle cx="321.9" cy="297.7" r="2.25"/><circle cx="331.9" cy="349.6" r="2.25"/><circle cx="291.8" cy="269.5" r="2.25"/><circle cx="280.6" cy="299.8" r="2.25"/><circle cx="309.8" cy="297.1" r="2.25"/><circle cx="312.0" cy="286.2" r="2.25"/><circle cx="325.5" cy="300.4" r="2.25"/><circle cx="332.3" cy="305.7" r="2.25"/><circle cx="295.0" cy="305.8" r="2.25"/><circle cx="327.1" cy="313.8" r="2.25"/><circle cx="337.9" cy="280.4" r="2.25"/><circle cx="308.3" cy="272.3" r="2.25"/><circle cx="323.3" cy="253.6" r="2.25"/><circle cx="315.7" cy="326.0" r="2.25"/><circle cx="298.9" cy="305.6" r="2.25"/><circle cx="306.7" cy="308.2" r="2.25"/><circle cx="333.7" cy="301.8" r="2.25"/><circle cx="348.0" cy="320.2" r="2.25"/><circle cx="289.9" cy="288.4" r="2.25"/><circle cx="317.9" cy="263.6" r="2.25"/><circle cx="307.9" cy="301.7" r="2.25"/><circle cx="318.0" cy="293.3" r="2.25"/><circle cx="289.2" cy="331.3" r="2.25"/><circle cx="329.3" cy="317.6" r="2.25"/><circle cx="319.2" cy="304.2" r="2.25"/><circle cx="310.1" cy="317.1" r="2.25"/><circle cx="320.0" cy="320.0" r="2.25"/><circle cx="298.1" cy="331.4" r="2.25"/><circle cx="316.4" cy="281.9" r="2.25"/><circle cx="354.2" cy="311.6" r="2.25"/><circle cx="288.2" cy="260.4" r="2.25"/><circle cx="342.5" cy="313.1" r="2.25"/><circle cx="310.9" cy="320.1" r="2.25"/><circle cx="302.0" cy="339.7" r="2.25"/><circle cx="306.6" cy="308.5" r="2.25"/><circle cx="284.8" cy="287.3" r="2.25"/><circle cx="297.0" cy="309.3" r="2.25"/><circle cx="329.1" cy="305.9" r="2.25"/><circle cx="309.1" cy="282.9" r="2.25"/><circle cx="308.0" cy="326.0" r="2.25"/><circle cx="296.3" cy="301.0" r="2.25"/><circle cx="304.2" cy="349.5" r="2.25"/><circle cx="316.9" cy="301.3" r="2.25"/><circle cx="324.0" cy="293.7" r="2.25"/><circle cx="338.4" cy="302.6" r="2.25"/><circle cx="307.1" cy="322.0" r="2.25"/><circle cx="328.5" cy="309.1" r="2.25"/><circle cx="322.2" cy="316.2" r="2.25"/><circle cx="320.8" cy="314.7" r="2.25"/><circle cx="317.8" cy="308.6" r="2.25"/><circle cx="319.8" cy="292.7" r="2.25"/><circle cx="333.5" cy="291.7" r="2.25"/><circle cx="295.4" cy="308.1" r="2.25"/><circle cx="322.8" cy="304.5" r="2.25"/><circle cx="328.2" cy="304.4" r="2.25"/><circle cx="332.4" cy="276.4" r="2.25"/><circle cx="336.7" cy="324.7" r="2.25"/><circle cx="308.1" cy="281.3" r="2.25"/><circle cx="289.0" cy="307.2" r="2.25"/><circle cx="314.2" cy="307.5" r="2.25"/><circle cx="345.3" cy="303.8" r="2.25"/><circle cx="305.0" cy="311.1" r="2.25"/><circle cx="318.3" cy="305.8" r="2.25"/><circle cx="303.2" cy="313.7" r="2.25"/><circle cx="332.4" cy="338.7" r="2.25"/><circle cx="322.5" cy="322.5" r="2.25"/><circle cx="319.8" cy="272.0" r="2.25"/><circle cx="296.4" cy="289.5" r="2.25"/><circle cx="302.1" cy="337.8" r="2.25"/><circle cx="355.4" cy="298.2" r="2.25"/><circle cx="307.6" cy="307.7" r="2.25"/><circle cx="312.6" cy="315.3" r="2.25"/><circle cx="342.1" cy="350.7" r="2.25"/><circle cx="326.6" cy="285.2" r="2.25"/><circle cx="329.5" cy="327.1" r="2.25"/><circle cx="317.3" cy="288.6" r="2.25"/><circle cx="313.0" cy="302.9" r="2.25"/><circle cx="309.0" cy="275.3" r="2.25"/><circle cx="296.8" cy="291.7" r="2.25"/><circle cx="306.7" cy="311.2" r="2.25"/><circle cx="339.7" cy="289.0" r="2.25"/><circle cx="327.8" cy="341.3" r="2.25"/><circle cx="329.1" cy="343.1" r="2.25"/><circle cx="311.5" cy="330.0" r="2.25"/><circle cx="324.8" cy="321.0" r="2.25"/><circle cx="300.7" cy="313.1" r="2.25"/><circle cx="314.1" cy="316.0" r="2.25"/><circle cx="304.5" cy="262.1" r="2.25"/><circle cx="309.4" cy="274.0" r="2.25"/><circle cx="301.7" cy="285.0" r="2.25"/><circle cx="292.2" cy="280.5" r="2.25"/><circle cx="307.6" cy="326.5" r="2.25"/><circle cx="318.8" cy="304.2" r="2.25"/><circle cx="321.4" cy="263.8" r="2.25"/><circle cx="302.1" cy="303.9" r="2.25"/><circle cx="283.6" cy="308.2" r="2.25"/><circle cx="287.8" cy="297.6" r="2.25"/><circle cx="336.2" cy="294.3" r="2.25"/><circle cx="305.8" cy="321.0" r="2.25"/><circle cx="291.0" cy="324.8" r="2.25"/><circle cx="315.6" cy="296.2" r="2.25"/><circle cx="286.3" cy="280.6" r="2.25"/><circle cx="317.7" cy="255.0" r="2.25"/><circle cx="336.1" cy="314.0" r="2.25"/><circle cx="322.2" cy="321.9" r="2.25"/><circle cx="304.3" cy="306.4" r="2.25"/><circle cx="333.6" cy="303.1" r="2.25"/><circle cx="300.6" cy="335.2" r="2.25"/><circle cx="302.2" cy="321.6" r="2.25"/><circle cx="340.5" cy="293.8" r="2.25"/><circle cx="295.8" cy="316.7" r="2.25"/><circle cx="344.2" cy="318.4" r="2.25"/><circle cx="303.9" cy="291.5" r="2.25"/><circle cx="306.4" cy="319.5" r="2.25"/><circle cx="306.3" cy="304.5" r="2.25"/><circle cx="316.0" cy="314.9" r="2.25"/><circle cx="301.9" cy="332.1" r="2.25"/><circle cx="360.1" cy="347.5" r="2.25"/><circle cx="311.3" cy="279.9" r="2.25"/><circle cx="310.5" cy="285.2" r="2.25"/><circle cx="342.0" cy="268.0" r="2.25"/><circle cx="316.5" cy="311.4" r="2.25"/><circle cx="308.2" cy="300.6" r="2.25"/><circle cx="307.9" cy="295.9" r="2.25"/><circle cx="286.1" cy="290.8" r="2.25"/><circle cx="291.2" cy="333.3" r="2.25"/><circle cx="356.2" cy="293.0" r="2.25"/><circle cx="355.0" cy="274.9" r="2.25"/><circle cx="307.6" cy="292.6" r="2.25"/><circle cx="289.5" cy="261.4" r="2.25"/><circle cx="323.0" cy="330.3" r="2.25"/><circle cx="293.4" cy="305.3" r="2.25"/><circle cx="328.9" cy="303.0" r="2.25"/><circle cx="305.1" cy="294.2" r="2.25"/><circle cx="288.7" cy="313.0" r="2.25"/><circle cx="309.5" cy="316.4" r="2.25"/><circle cx="323.3" cy="353.9" r="2.25"/><circle cx="284.7" cy="286.0" r="2.25"/><circle cx="312.9" cy="309.3" r="2.25"/><circle cx="307.3" cy="299.7" r="2.25"/><circle cx="317.0" cy="317.2" r="2.25"/><circle cx="314.1" cy="258.9" r="2.25"/><circle cx="328.4" cy="298.6" r="2.25"/><circle cx="328.9" cy="319.0" r="2.25"/><circle cx="351.3" cy="327.4" r="2.25"/><circle cx="285.6" cy="305.9" r="2.25"/><circle cx="295.3" cy="299.9" r="2.25"/><circle cx="295.0" cy="295.3" r="2.25"/><circle cx="293.0" cy="308.4" r="2.25"/><circle cx="313.5" cy="269.7" r="2.25"/><circle cx="302.9" cy="302.9" r="2.25"/><circle cx="331.0" cy="295.8" r="2.25"/><circle cx="298.0" cy="296.4" r="2.25"/><circle cx="328.4" cy="291.7" r="2.25"/><circle cx="328.7" cy="306.3" r="2.25"/><circle cx="284.8" cy="324.4" r="2.25"/><circle cx="332.1" cy="271.5" r="2.25"/><circle cx="298.0" cy="305.1" r="2.25"/><circle cx="344.0" cy="297.9" r="2.25"/><circle cx="301.8" cy="315.0" r="2.25"/><circle cx="285.4" cy="321.6" r="2.25"/><circle cx="313.8" cy="305.9" r="2.25"/><circle cx="314.0" cy="330.2" r="2.25"/><circle cx="302.0" cy="309.4" r="2.25"/><circle cx="299.3" cy="308.0" r="2.25"/><circle cx="323.7" cy="304.9" r="2.25"/><circle cx="311.6" cy="281.9" r="2.25"/><circle cx="325.0" cy="289.3" r="2.25"/><circle cx="312.8" cy="324.2" r="2.25"/><circle cx="351.1" cy="316.2" r="2.25"/><circle cx="350.0" cy="342.4" r="2.25"/><circle cx="317.0" cy="312.7" r="2.25"/><circle cx="287.0" cy="299.3" r="2.25"/><circle cx="302.3" cy="326.3" r="2.25"/><circle cx="351.3" cy="347.9" r="2.25"/><circle cx="334.9" cy="302.3" r="2.25"/><circle cx="326.1" cy="323.0" r="2.25"/><circle cx="328.4" cy="320.1" r="2.25"/><circle cx="294.5" cy="269.6" r="2.25"/><circle cx="319.6" cy="293.4" r="2.25"/><circle cx="328.1" cy="330.4" r="2.25"/><circle cx="302.4" cy="277.2" r="2.25"/><circle cx="315.0" cy="301.0" r="2.25"/><circle cx="315.9" cy="326.3" r="2.25"/><circle cx="328.2" cy="353.3" r="2.25"/><circle cx="301.1" cy="337.6" r="2.25"/><circle cx="307.2" cy="295.8" r="2.25"/><circle cx="358.4" cy="306.8" r="2.25"/><circle cx="312.9" cy="283.6" r="2.25"/><circle cx="316.4" cy="272.4" r="2.25"/><circle cx="297.7" cy="288.9" r="2.25"/><circle cx="319.6" cy="285.1" r="2.25"/><circle cx="315.8" cy="317.1" r="2.25"/><circle cx="324.7" cy="287.1" r="2.25"/><circle cx="330.6" cy="278.7" r="2.25"/><circle cx="327.5" cy="306.0" r="2.25"/><circle cx="331.3" cy="318.9" r="2.25"/><circle cx="360.8" cy="340.6" r="2.25"/><circle cx="320.1" cy="293.2" r="2.25"/><circle cx="333.3" cy="288.5" r="2.25"/><circle cx="315.9" cy="271.0" r="2.25"/><circle cx="286.4" cy="306.7" r="2.25"/><circle cx="304.4" cy="309.8" r="2.25"/><circle cx="355.3" cy="320.5" r="2.25"/><circle cx="347.9" cy="347.1" r="2.25"/><circle cx="315.0" cy="265.6" r="2.25"/><circle cx="314.5" cy="297.5" r="2.25"/><circle cx="350.3" cy="324.4" r="2.25"/><circle cx="300.8" cy="317.7" r="2.25"/><circle cx="308.0" cy="315.2" r="2.25"/><circle cx="319.5" cy="322.7" r="2.25"/><circle cx="284.3" cy="311.3" r="2.25"/><circle cx="281.7" cy="307.6" r="2.25"/><circle cx="329.8" cy="311.4" r="2.25"/><circle cx="347.0" cy="311.5" r="2.25"/><circle cx="291.5" cy="316.6" r="2.25"/><circle cx="287.0" cy="296.8" r="2.25"/><circle cx="290.7" cy="255.2" r="2.25"/><circle cx="291.8" cy="326.9" r="2.25"/><circle cx="301.5" cy="301.5" r="2.25"/><circle cx="302.9" cy="279.8" r="2.25"/><circle cx="326.1" cy="308.0" r="2.25"/><circle cx="295.5" cy="259.3" r="2.25"/><circle cx="306.6" cy="294.6" r="2.25"/><circle cx="338.4" cy="331.9" r="2.25"/><circle cx="298.5" cy="319.0" r="2.25"/><circle cx="332.6" cy="305.3" r="2.25"/><circle cx="308.4" cy="277.7" r="2.25"/><circle cx="286.2" cy="279.5" r="2.25"/><circle cx="310.7" cy="289.3" r="2.25"/><circle cx="289.6" cy="272.1" r="2.25"/><circle cx="294.7" cy="278.1" r="2.25"/><circle cx="314.3" cy="285.5" r="2.25"/><circle cx="295.0" cy="339.0" r="2.25"/><circle cx="317.3" cy="291.5" r="2.25"/><circle cx="310.8" cy="293.6" r="2.25"/><circle cx="312.0" cy="293.3" r="2.25"/><circle cx="319.8" cy="344.5" r="2.25"/><circle cx="310.1" cy="295.6" r="2.25"/><circle cx="317.0" cy="274.9" r="2.25"/><circle cx="304.8" cy="317.9" r="2.25"/><circle cx="284.5" cy="288.0" r="2.25"/><circle cx="317.5" cy="265.8" r="2.25"/><circle cx="299.0" cy="317.5" r="2.25"/><circle cx="302.6" cy="268.0" r="2.25"/><circle cx="327.8" cy="275.3" r="2.25"/><circle cx="289.9" cy="304.8" r="2.25"/><circle cx="299.2" cy="331.1" r="2.25"/><circle cx="292.8" cy="264.1" r="2.25"/><circle cx="324.0" cy="322.2" r="2.25"/><circle cx="306.4" cy="268.4" r="2.25"/><circle cx="327.4" cy="310.4" r="2.25"/><circle cx="328.1" cy="311.5" r="2.25"/><circle cx="306.6" cy="276.8" r="2.25"/><circle cx="299.9" cy="294.0" r="2.25"/><circle cx="334.0" cy="286.5" r="2.25"/><circle cx="301.2" cy="308.9" r="2.25"/><circle cx="313.4" cy="329.0" r="2.25"/><circle cx="293.0" cy="292.6" r="2.25"/><circle cx="327.3" cy="314.5" r="2.25"/><circle cx="284.1" cy="305.0" r="2.25"/><circle cx="315.1" cy="301.9" r="2.25"/><circle cx="290.0" cy="303.9" r="2.25"/><circle cx="307.6" cy="273.3" r="2.25"/><circle cx="301.2" cy="319.2" r="2.25"/><circle cx="320.9" cy="315.9" r="2.25"/><circle cx="310.1" cy="328.8" r="2.25"/><circle cx="294.9" cy="278.0" r="2.25"/><circle cx="308.0" cy="316.3" r="2.25"/><circle cx="303.8" cy="326.2" r="2.25"/><circle cx="322.7" cy="293.0" r="2.25"/><circle cx="329.5" cy="288.3" r="2.25"/><circle cx="365.3" cy="313.7" r="2.25"/><circle cx="308.6" cy="287.9" r="2.25"/><circle cx="310.4" cy="291.5" r="2.25"/><circle cx="308.0" cy="309.3" r="2.25"/><circle cx="309.2" cy="277.5" r="2.25"/><circle cx="324.1" cy="316.5" r="2.25"/><circle cx="281.3" cy="286.6" r="2.25"/><circle cx="315.8" cy="304.1" r="2.25"/><circle cx="322.5" cy="298.0" r="2.25"/><circle cx="324.1" cy="278.4" r="2.25"/><circle cx="304.2" cy="295.5" r="2.25"/><circle cx="295.9" cy="292.9" r="2.25"/><circle cx="288.9" cy="273.8" r="2.25"/><circle cx="311.8" cy="291.7" r="2.25"/><circle cx="291.4" cy="309.2" r="2.25"/><circle cx="352.3" cy="297.2" r="2.25"/><circle cx="284.0" cy="302.2" r="2.25"/><circle cx="311.5" cy="286.9" r="2.25"/><circle cx="342.2" cy="304.5" r="2.25"/><circle cx="322.5" cy="288.9" r="2.25"/><circle cx="322.0" cy="323.2" r="2.25"/><circle cx="291.3" cy="318.1" r="2.25"/><circle cx="297.0" cy="303.1" r="2.25"/><circle cx="318.8" cy="295.8" r="2.25"/><circle cx="315.3" cy="315.0" r="2.25"/><circle cx="302.7" cy="263.7" r="2.25"/><circle cx="333.5" cy="294.1" r="2.25"/><circle cx="318.3" cy="277.6" r="2.25"/><circle cx="351.9" cy="280.1" r="2.25"/><circle cx="337.5" cy="338.4" r="2.25"/><circle cx="322.5" cy="353.7" r="2.25"/><circle cx="352.6" cy="334.5" r="2.25"/><circle cx="321.6" cy="335.0" r="2.25"/><circle cx="297.0" cy="308.6" r="2.25"/><circle cx="309.1" cy="281.5" r="2.25"/><circle cx="321.0" cy="288.6" r="2.25"/><circle cx="314.9" cy="311.9" r="2.25"/><circle cx="335.9" cy="288.2" r="2.25"/><circle cx="348.3" cy="304.3" r="2.25"/><circle cx="344.5" cy="301.5" r="2.25"/><circle cx="278.1" cy="297.8" r="2.25"/><circle cx="288.6" cy="321.1" r="2.25"/><circle cx="308.8" cy="289.4" r="2.25"/><circle cx="285.6" cy="295.8" r="2.25"/><circle cx="335.6" cy="279.1" r="2.25"/><circle cx="287.6" cy="287.6" r="2.25"/><circle cx="290.4" cy="323.7" r="2.25"/><circle cx="292.4" cy="297.1" r="2.25"/><circle cx="305.9" cy="302.4" r="2.25"/><circle cx="331.4" cy="285.4" r="2.25"/><circle cx="293.0" cy="289.2" r="2.25"/><circle cx="303.2" cy="317.0" r="2.25"/><circle cx="327.6" cy="307.2" r="2.25"/><circle cx="302.6" cy="291.1" r="2.25"/><circle cx="342.8" cy="303.1" r="2.25"/><circle cx="311.0" cy="291.9" r="2.25"/><circle cx="335.1" cy="315.2" r="2.25"/><circle cx="286.6" cy="263.2" r="2.25"/><circle cx="323.5" cy="324.2" r="2.25"/><circle cx="339.1" cy="305.5" r="2.25"/><circle cx="323.6" cy="339.0" r="2.25"/><circle cx="331.2" cy="257.7" r="2.25"/><circle cx="303.8" cy="290.7" r="2.25"/><circle cx="323.2" cy="293.6" r="2.25"/><circle cx="300.6" cy="310.5" r="2.25"/><circle cx="326.0" cy="314.9" r="2.25"/><circle cx="323.6" cy="292.2" r="2.25"/><circle cx="323.0" cy="309.8" r="2.25"/><circle cx="307.1" cy="282.1" r="2.25"/><circle cx="299.3" cy="319.2" r="2.25"/><circle cx="307.7" cy="262.6" r="2.25"/><circle cx="311.7" cy="297.4" r="2.25"/><circle cx="330.4" cy="300.5" r="2.25"/><circle cx="315.0" cy="309.1" r="2.25"/><circle cx="315.7" cy="302.0" r="2.25"/><circle cx="304.2" cy="285.6" r="2.25"/><circle cx="317.8" cy="272.3" r="2.25"/><circle cx="308.8" cy="298.7" r="2.25"/><circle cx="315.5" cy="318.3" r="2.25"/><circle cx="313.0" cy="297.3" r="2.25"/><circle cx="290.7" cy="283.9" r="2.25"/><circle cx="320.8" cy="298.5" r="2.25"/><circle cx="280.8" cy="303.4" r="2.25"/><circle cx="361.0" cy="322.4" r="2.25"/><circle cx="292.9" cy="313.6" r="2.25"/><circle cx="303.5" cy="295.6" r="2.25"/><circle cx="292.9" cy="276.3" r="2.25"/><circle cx="308.4" cy="302.8" r="2.25"/><circle cx="319.7" cy="288.2" r="2.25"/><circle cx="305.5" cy="318.4" r="2.25"/><circle cx="282.9" cy="302.7" r="2.25"/><circle cx="305.2" cy="293.5" r="2.25"/><circle cx="299.4" cy="294.8" r="2.25"/><circle cx="301.6" cy="308.9" r="2.25"/><circle cx="315.8" cy="323.8" r="2.25"/><circle cx="311.5" cy="264.5" r="2.25"/><circle cx="319.4" cy="302.8" r="2.25"/><circle cx="282.4" cy="284.0" r="2.25"/><circle cx="290.6" cy="306.9" r="2.25"/><circle cx="339.2" cy="294.7" r="2.25"/><circle cx="285.4" cy="304.5" r="2.25"/><circle cx="330.8" cy="302.8" r="2.25"/><circle cx="301.8" cy="313.8" r="2.25"/><circle cx="319.4" cy="303.9" r="2.25"/><circle cx="338.8" cy="322.0" r="2.25"/><circle cx="357.4" cy="297.1" r="2.25"/><circle cx="304.8" cy="273.5" r="2.25"/><circle cx="290.5" cy="315.9" r="2.25"/><circle cx="311.5" cy="279.7" r="2.25"/><circle cx="305.3" cy="297.8" r="2.25"/><circle cx="326.1" cy="308.7" r="2.25"/><circle cx="306.6" cy="326.5" r="2.25"/><circle cx="316.1" cy="298.0" r="2.25"/><circle cx="299.0" cy="304.6" r="2.25"/><circle cx="288.3" cy="310.8" r="2.25"/><circle cx="329.7" cy="306.0" r="2.25"/><circle cx="300.9" cy="278.3" r="2.25"/><circle cx="326.8" cy="261.2" r="2.25"/><circle cx="321.8" cy="291.4" r="2.25"/><circle cx="309.2" cy="312.9" r="2.25"/><circle cx="362.1" cy="307.7" r="2.25"/><circle cx="326.3" cy="286.7" r="2.25"/><circle cx="306.5" cy="302.0" r="2.25"/><circle cx="316.6" cy="332.0" r="2.25"/><circle cx="294.0" cy="300.8" r="2.25"/><circle cx="327.3" cy="303.6" r="2.25"/><circle cx="360.0" cy="292.1" r="2.25"/><circle cx="308.3" cy="319.8" r="2.25"/><circle cx="308.1" cy="316.2" r="2.25"/><circle cx="326.1" cy="304.7" r="2.25"/><circle cx="303.1" cy="328.1" r="2.25"/><circle cx="338.6" cy="309.2" r="2.25"/><circle cx="286.6" cy="308.4" r="2.25"/><circle cx="312.7" cy="306.0" r="2.25"/><circle cx="324.1" cy="307.0" r="2.25"/><circle cx="299.6" cy="328.4" r="2.25"/><circle cx="302.7" cy="344.2" r="2.25"/><circle cx="306.4" cy="321.4" r="2.25"/><circle cx="329.6" cy="324.3" r="2.25"/><circle cx="320.0" cy="306.2" r="2.25"/><circle cx="333.2" cy="280.1" r="2.25"/><circle cx="320.1" cy="347.2" r="2.25"/><circle cx="357.6" cy="286.4" r="2.25"/><circle cx="303.4" cy="298.0" r="2.25"/><circle cx="313.7" cy="295.0" r="2.25"/><circle cx="288.1" cy="308.6" r="2.25"/><circle cx="309.1" cy="313.1" r="2.25"/><circle cx="345.7" cy="326.5" r="2.25"/><circle cx="339.8" cy="299.1" r="2.25"/><circle cx="322.1" cy="258.8" r="2.25"/><circle cx="324.3" cy="279.9" r="2.25"/><circle cx="291.2" cy="291.0" r="2.25"/><circle cx="299.5" cy="287.7" r="2.25"/><circle cx="327.8" cy="289.3" r="2.25"/><circle cx="316.1" cy="296.6" r="2.25"/><circle cx="288.4" cy="308.4" r="2.25"/><circle cx="298.1" cy="286.5" r="2.25"/><circle cx="304.4" cy="311.2" r="2.25"/><circle cx="313.5" cy="318.6" r="2.25"/><circle cx="303.1" cy="283.5" r="2.25"/><circle cx="355.9" cy="345.7" r="2.25"/><circle cx="315.2" cy="315.2" r="2.25"/><circle cx="301.3" cy="301.2" r="2.25"/><circle cx="295.1" cy="320.3" r="2.25"/><circle cx="335.2" cy="287.5" r="2.25"/><circle cx="339.5" cy="343.4" r="2.25"/><circle cx="333.2" cy="320.2" r="2.25"/><circle cx="297.5" cy="315.5" r="2.25"/><circle cx="293.4" cy="293.1" r="2.25"/><circle cx="286.4" cy="328.6" r="2.25"/><circle cx="346.1" cy="329.9" r="2.25"/><circle cx="323.6" cy="312.9" r="2.25"/><circle cx="285.3" cy="272.2" r="2.25"/><circle cx="347.1" cy="299.2" r="2.25"/><circle cx="317.7" cy="293.8" r="2.25"/><circle cx="310.7" cy="336.1" r="2.25"/><circle cx="315.0" cy="325.6" r="2.25"/><circle cx="303.6" cy="321.9" r="2.25"/><circle cx="283.7" cy="296.3" r="2.25"/><circle cx="316.6" cy="288.6" r="2.25"/><circle cx="337.7" cy="314.4" r="2.25"/><circle cx="295.4" cy="301.1" r="2.25"/><circle cx="300.2" cy="272.8" r="2.25"/><circle cx="311.6" cy="307.1" r="2.25"/><circle cx="293.3" cy="320.8" r="2.25"/><circle cx="314.5" cy="297.0" r="2.25"/><circle cx="288.0" cy="299.1" r="2.25"/><circle cx="340.5" cy="301.8" r="2.25"/><circle cx="291.6" cy="316.1" r="2.25"/><circle cx="301.4" cy="344.7" r="2.25"/><circle cx="297.6" cy="296.4" r="2.25"/><circle cx="287.1" cy="289.0" r="2.25"/><circle cx="337.5" cy="316.6" r="2.25"/><circle cx="282.9" cy="305.8" r="2.25"/><circle cx="317.9" cy="308.0" r="2.25"/><circle cx="334.0" cy="275.6" r="2.25"/><circle cx="329.9" cy="304.3" r="2.25"/><circle cx="313.2" cy="273.1" r="2.25"/><circle cx="300.0" cy="290.3" r="2.25"/><circle cx="337.4" cy="278.2" r="2.25"/><circle cx="342.3" cy="318.4" r="2.25"/><circle cx="348.4" cy="335.3" r="2.25"/><circle cx="306.7" cy="305.2" r="2.25"/><circle cx="316.8" cy="265.7" r="2.25"/><circle cx="328.1" cy="310.3" r="2.25"/><circle cx="290.7" cy="331.2" r="2.25"/><circle cx="336.4" cy="310.5" r="2.25"/><circle cx="319.6" cy="303.8" r="2.25"/><circle cx="308.1" cy="310.4" r="2.25"/><circle cx="322.0" cy="275.8" r="2.25"/><circle cx="338.8" cy="302.7" r="2.25"/><circle cx="328.2" cy="288.4" r="2.25"/><circle cx="311.0" cy="325.5" r="2.25"/><circle cx="291.8" cy="283.5" r="2.25"/><circle cx="318.7" cy="295.2" r="2.25"/><circle cx="299.9" cy="291.3" r="2.25"/><circle cx="300.4" cy="308.6" r="2.25"/><circle cx="306.1" cy="315.8" r="2.25"/><circle cx="334.1" cy="291.3" r="2.25"/><circle cx="319.6" cy="315.8" r="2.25"/><circle cx="328.5" cy="299.5" r="2.25"/><circle cx="351.4" cy="313.8" r="2.25"/><circle cx="295.6" cy="301.4" r="2.25"/><circle cx="303.5" cy="286.9" r="2.25"/><circle cx="305.4" cy="317.9" r="2.25"/><circle cx="321.2" cy="327.3" r="2.25"/><circle cx="293.0" cy="270.8" r="2.25"/><circle cx="309.4" cy="277.8" r="2.25"/><circle cx="316.5" cy="296.0" r="2.25"/><circle cx="319.3" cy="303.9" r="2.25"/><circle cx="288.9" cy="294.2" r="2.25"/><circle cx="310.7" cy="298.4" r="2.25"/><circle cx="332.5" cy="333.6" r="2.25"/><circle cx="354.9" cy="314.3" r="2.25"/><circle cx="304.6" cy="310.1" r="2.25"/><circle cx="303.4" cy="295.6" r="2.25"/><circle cx="319.6" cy="313.8" r="2.25"/><circle cx="338.4" cy="313.4" r="2.25"/><circle cx="354.7" cy="310.1" r="2.25"/><circle cx="312.8" cy="324.4" r="2.25"/><circle cx="317.7" cy="336.5" r="2.25"/><circle cx="319.4" cy="306.8" r="2.25"/><circle cx="331.5" cy="306.4" r="2.25"/><circle cx="304.1" cy="289.8" r="2.25"/><circle cx="320.0" cy="302.8" r="2.25"/><circle cx="316.7" cy="327.6" r="2.25"/><circle cx="319.0" cy="328.8" r="2.25"/><circle cx="307.1" cy="343.9" r="2.25"/><circle cx="328.0" cy="312.3" r="2.25"/><circle cx="330.9" cy="297.1" r="2.25"/><circle cx="334.0" cy="311.4" r="2.25"/><circle cx="309.2" cy="306.9" r="2.25"/><circle cx="315.1" cy="347.9" r="2.25"/><circle cx="304.6" cy="302.6" r="2.25"/><circle cx="297.9" cy="314.5" r="2.25"/><circle cx="298.4" cy="301.3" r="2.25"/><circle cx="314.9" cy="326.0" r="2.25"/><circle cx="310.3" cy="304.0" r="2.25"/><circle cx="310.6" cy="314.5" r="2.25"/><circle cx="298.2" cy="302.9" r="2.25"/><circle cx="302.0" cy="310.1" r="2.25"/><circle cx="326.1" cy="340.2" r="2.25"/><circle cx="327.2" cy="298.6" r="2.25"/><circle cx="313.1" cy="279.6" r="2.25"/><circle cx="307.1" cy="284.4" r="2.25"/><circle cx="336.0" cy="320.5" r="2.25"/><circle cx="303.7" cy="283.8" r="2.25"/><circle cx="300.7" cy="294.0" r="2.25"/><circle cx="297.2" cy="318.8" r="2.25"/><circle cx="326.7" cy="294.7" r="2.25"/><circle cx="358.9" cy="312.4" r="2.25"/><circle cx="334.7" cy="277.2" r="2.25"/><circle cx="329.8" cy="330.8" r="2.25"/><circle cx="328.2" cy="293.3" r="2.25"/><circle cx="350.7" cy="315.3" r="2.25"/><circle cx="319.1" cy="302.4" r="2.25"/><circle cx="319.8" cy="302.2" r="2.25"/><circle cx="314.8" cy="315.0" r="2.25"/><circle cx="287.8" cy="300.8" r="2.25"/><circle cx="309.9" cy="324.6" r="2.25"/><circle cx="296.8" cy="304.6" r="2.25"/><circle cx="292.1" cy="304.7" r="2.25"/><circle cx="329.4" cy="319.1" r="2.25"/><circle cx="330.7" cy="293.2" r="2.25"/><circle cx="317.4" cy="322.9" r="2.25"/><circle cx="321.7" cy="299.6" r="2.25"/><circle cx="298.1" cy="310.8" r="2.25"/><circle cx="294.0" cy="310.3" r="2.25"/><circle cx="336.2" cy="301.3" r="2.25"/><circle cx="301.0" cy="268.6" r="2.25"/><circle cx="306.8" cy="290.1" r="2.25"/><circle cx="326.1" cy="332.0" r="2.25"/><circle cx="326.9" cy="257.5" r="2.25"/><circle cx="323.9" cy="317.0" r="2.25"/><circle cx="338.8" cy="339.2" r="2.25"/><circle cx="328.2" cy="320.5" r="2.25"/><circle cx="318.9" cy="343.3" r="2.25"/><circle cx="331.7" cy="296.4" r="2.25"/><circle cx="313.7" cy="297.9" r="2.25"/><circle cx="367.6" cy="334.3" r="2.25"/><circle cx="320.4" cy="286.8" r="2.25"/><circle cx="312.3" cy="297.3" r="2.25"/><circle cx="305.5" cy="285.1" r="2.25"/><circle cx="294.3" cy="274.1" r="2.25"/><circle cx="318.6" cy="297.9" r="2.25"/><circle cx="332.3" cy="317.9" r="2.25"/><circle cx="311.8" cy="325.6" r="2.25"/><circle cx="301.0" cy="319.2" r="2.25"/><circle cx="301.6" cy="285.3" r="2.25"/><circle cx="290.5" cy="294.8" r="2.25"/><circle cx="290.1" cy="269.6" r="2.25"/><circle cx="323.1" cy="340.8" r="2.25"/><circle cx="336.8" cy="284.5" r="2.25"/><circle cx="321.5" cy="315.7" r="2.25"/><circle cx="326.4" cy="319.6" r="2.25"/><circle cx="292.4" cy="302.4" r="2.25"/><circle cx="310.3" cy="266.3" r="2.25"/><circle cx="338.5" cy="295.9" r="2.25"/><circle cx="297.4" cy="299.5" r="2.25"/><circle cx="297.2" cy="292.4" r="2.25"/><circle cx="306.8" cy="294.1" r="2.25"/><circle cx="282.5" cy="299.6" r="2.25"/><circle cx="285.5" cy="288.9" r="2.25"/><circle cx="303.8" cy="315.3" r="2.25"/><circle cx="319.5" cy="306.8" r="2.25"/><circle cx="317.1" cy="324.6" r="2.25"/><circle cx="313.6" cy="290.7" r="2.25"/><circle cx="324.8" cy="293.4" r="2.25"/><circle cx="325.4" cy="313.4" r="2.25"/><circle cx="348.7" cy="312.9" r="2.25"/><circle cx="296.0" cy="314.1" r="2.25"/><circle cx="315.2" cy="337.8" r="2.25"/><circle cx="310.7" cy="277.0" r="2.25"/><circle cx="327.1" cy="332.7" r="2.25"/><circle cx="303.3" cy="291.5" r="2.25"/><circle cx="293.1" cy="325.9" r="2.25"/><circle cx="336.4" cy="289.7" r="2.25"/><circle cx="347.5" cy="294.0" r="2.25"/><circle cx="290.3" cy="293.4" r="2.25"/><circle cx="295.7" cy="306.8" r="2.25"/><circle cx="320.5" cy="315.3" r="2.25"/><circle cx="323.0" cy="304.8" r="2.25"/><circle cx="348.6" cy="295.0" r="2.25"/><circle cx="321.1" cy="291.8" r="2.25"/><circle cx="310.5" cy="328.5" r="2.25"/><circle cx="308.5" cy="301.5" r="2.25"/></g>
<rect x="84.9" y="357.3" width="131" height="92.7" rx="2.6" fill="#fff" fill-opacity="0.8" stroke="#ccc" stroke-width="1"/>
<text x="150.2" y="379.9" font-size="23" text-anchor="middle" textLength="103.5" lengthAdjust="spacing">Component</text>
<circle cx="104.9" cy="396.5" r="2.05" fill="#ff0000"/>
<text x="131.5" y="401.2" font-size="14.6" letter-spacing="0.45">Short</text>
<circle cx="104.9" cy="417.7" r="2.05" fill="#6495ed"/>
<text x="131.5" y="421.8" font-size="14.6" textLength="78.7" lengthAdjust="spacing">Intermediate</text>
<circle cx="104.9" cy="438.2" r="2.05" fill="#008000"/>
<text x="131.5" y="441.8" font-size="14.6" letter-spacing="0.45">Long</text>
<g stroke="#000"><line x1="77.50" y1="128.52" x2="75.10" y2="128.52" stroke-width="0.9"/><line x1="77.50" y1="110.34" x2="75.10" y2="110.34" stroke-width="0.9"/><line x1="77.50" y1="92.16" x2="75.10" y2="92.16" stroke-width="0.9"/><line x1="77.50" y1="73.98" x2="75.10" y2="73.98" stroke-width="0.9"/><line x1="77.50" y1="55.80" x2="81.70" y2="55.80" stroke-width="1.1"/><line x1="77.50" y1="37.62" x2="75.10" y2="37.62" stroke-width="0.9"/><line x1="77.50" y1="19.44" x2="75.10" y2="19.44" stroke-width="0.9"/><line x1="98.38" y1="146.70" x2="98.38" y2="149.10" stroke-width="0.9"/><line x1="128.95" y1="146.70" x2="128.95" y2="149.10" stroke-width="0.9"/><line x1="159.53" y1="146.70" x2="159.53" y2="149.10" stroke-width="0.9"/><line x1="190.10" y1="146.70" x2="190.10" y2="150.90" stroke-width="1.1"/><line x1="220.67" y1="146.70" x2="220.67" y2="149.10" stroke-width="0.9"/><line x1="251.25" y1="146.70" x2="251.25" y2="149.10" stroke-width="0.9"/><line x1="281.82" y1="146.70" x2="281.82" y2="149.10" stroke-width="0.9"/><line x1="312.40" y1="146.70" x2="312.40" y2="150.90" stroke-width="1.1"/><line x1="342.98" y1="146.70" x2="342.98" y2="149.10" stroke-width="0.9"/><line x1="373.55" y1="146.70" x2="373.55" y2="149.10" stroke-width="0.9"/><line x1="77.50" y1="457.40" x2="77.50" y2="453.20" stroke-width="1.1"/><line x1="89.34" y1="457.40" x2="89.34" y2="455.00" stroke-width="0.9"/><line x1="101.18" y1="457.40" x2="101.18" y2="455.00" stroke-width="0.9"/><line x1="113.02" y1="457.40" x2="113.02" y2="455.00" stroke-width="0.9"/><line x1="124.86" y1="457.40" x2="124.86" y2="455.00" stroke-width="0.9"/><line x1="136.70" y1="457.40" x2="136.70" y2="453.20" stroke-width="1.1"/><line x1="148.54" y1="457.40" x2="148.54" y2="455.00" stroke-width="0.9"/><line x1="160.38" y1="457.40" x2="160.38" y2="455.00" stroke-width="0.9"/><line x1="172.22" y1="457.40" x2="172.22" y2="455.00" stroke-width="0.9"/><line x1="184.06" y1="457.40" x2="184.06" y2="455.00" stroke-width="0.9"/><line x1="195.90" y1="457.40" x2="195.90" y2="453.20" stroke-width="1.1"/><line x1="207.74" y1="457.40" x2="207.74" y2="455.00" stroke-width="0.9"/><line x1="219.58" y1="457.40" x2="219.58" y2="455.00" stroke-width="0.9"/><line x1="231.42" y1="457.40" x2="231.42" y2="455.00" stroke-width="0.9"/><line x1="243.26" y1="457.40" x2="243.26" y2="455.00" stroke-width="0.9"/><line x1="255.10" y1="457.40" x2="255.10" y2="453.20" stroke-width="1.1"/><line x1="266.94" y1="457.40" x2="266.94" y2="455.00" stroke-width="0.9"/><line x1="278.78" y1="457.40" x2="278.78" y2="455.00" stroke-width="0.9"/><line x1="290.62" y1="457.40" x2="290.62" y2="455.00" stroke-width="0.9"/><line x1="302.46" y1="457.40" x2="302.46" y2="455.00" stroke-width="0.9"/><line x1="314.30" y1="457.40" x2="314.30" y2="453.20" stroke-width="1.1"/><line x1="326.14" y1="457.40" x2="326.14" y2="455.00" stroke-width="0.9"/><line x1="337.98" y1="457.40" x2="337.98" y2="455.00" stroke-width="0.9"/><line x1="349.82" y1="457.40" x2="349.82" y2="455.00" stroke-width="0.9"/><line x1="361.66" y1="457.40" x2="361.66" y2="455.00" stroke-width="0.9"/><line x1="373.50" y1="457.40" x2="373.50" y2="453.20" stroke-width="1.1"/><line x1="77.50" y1="445.70" x2="79.90" y2="445.70" stroke-width="0.9"/><line x1="396.60" y1="445.70" x2="394.20" y2="445.70" stroke-width="0.9"/><line x1="77.50" y1="433.30" x2="81.70" y2="433.30" stroke-width="1.1"/><line x1="396.60" y1="433.30" x2="392.40" y2="433.30" stroke-width="1.1"/><line x1="77.50" y1="420.90" x2="79.90" y2="420.90" stroke-width="0.9"/><line x1="396.60" y1="420.90" x2="394.20" y2="420.90" stroke-width="0.9"/><line x1="77.50" y1="408.50" x2="79.90" y2="408.50" stroke-width="0.9"/><line x1="396.60" y1="408.50" x2="394.20" y2="408.50" stroke-width="0.9"/><line x1="77.50" y1="396.10" x2="79.90" y2="396.10" stroke-width="0.9"/><line x1="396.60" y1="396.10" x2="394.20" y2="396.10" stroke-width="0.9"/><line x1="77.50" y1="383.70" x2="81.70" y2="383.70" stroke-width="1.1"/><line x1="396.60" y1="383.70" x2="392.40" y2="383.70" stroke-width="1.1"/><line x1="77.50" y1="371.30" x2="79.90" y2="371.30" stroke-width="0.9"/><line x1="396.60" y1="371.30" x2="394.20" y2="371.30" stroke-width="0.9"/><line x1="77.50" y1="358.90" x2="79.90" y2="358.90" stroke-width="0.9"/><line x1="396.60" y1="358.90" x2="394.20" y2="358.90" stroke-width="0.9"/><line x1="77.50" y1="346.50" x2="79.90" y2="346.50" stroke-width="0.9"/><line x1="396.60" y1="346.50" x2="394.20" y2="346.50" stroke-width="0.9"/><line x1="77.50" y1="334.10" x2="81.70" y2="334.10" stroke-width="1.1"/><line x1="396.60" y1="334.10" x2="392.40" y2="334.10" stroke-width="1.1"/><line x1="77.50" y1="321.70" x2="79.90" y2="321.70" stroke-width="0.9"/><line x1="396.60" y1="321.70" x2="394.20" y2="321.70" stroke-width="0.9"/><line x1="77.50" y1="309.30" x2="79.90" y2="309.30" stroke-width="0.9"/><line x1="396.60" y1="309.30" x2="394.20" y2="309.30" stroke-width="0.9"/><line x1="77.50" y1="296.90" x2="79.90" y2="296.90" stroke-width="0.9"/><line x1="396.60" y1="296.90" x2="394.20" y2="296.90" stroke-width="0.9"/><line x1="77.50" y1="284.50" x2="81.70" y2="284.50" stroke-width="1.1"/><line x1="396.60" y1="284.50" x2="392.40" y2="284.50" stroke-width="1.1"/><line x1="77.50" y1="272.10" x2="79.90" y2="272.10" stroke-width="0.9"/><line x1="396.60" y1="272.10" x2="394.20" y2="272.10" stroke-width="0.9"/><line x1="77.50" y1="259.70" x2="79.90" y2="259.70" stroke-width="0.9"/><line x1="396.60" y1="259.70" x2="394.20" y2="259.70" stroke-width="0.9"/><line x1="77.50" y1="247.30" x2="79.90" y2="247.30" stroke-width="0.9"/><line x1="396.60" y1="247.30" x2="394.20" y2="247.30" stroke-width="0.9"/><line x1="77.50" y1="234.90" x2="81.70" y2="234.90" stroke-width="1.1"/><line x1="396.60" y1="234.90" x2="392.40" y2="234.90" stroke-width="1.1"/><line x1="77.50" y1="222.50" x2="79.90" y2="222.50" stroke-width="0.9"/><line x1="396.60" y1="222.50" x2="394.20" y2="222.50" stroke-width="0.9"/><line x1="77.50" y1="210.10" x2="79.90" y2="210.10" stroke-width="0.9"/><line x1="396.60" y1="210.10" x2="394.20" y2="210.10" stroke-width="0.9"/><line x1="77.50" y1="197.70" x2="79.90" y2="197.70" stroke-width="0.9"/><line x1="396.60" y1="197.70" x2="394.20" y2="197.70" stroke-width="0.9"/><line x1="77.50" y1="185.30" x2="81.70" y2="185.30" stroke-width="1.1"/><line x1="396.60" y1="185.30" x2="392.40" y2="185.30" stroke-width="1.1"/><line x1="77.50" y1="172.90" x2="79.90" y2="172.90" stroke-width="0.9"/><line x1="396.60" y1="172.90" x2="394.20" y2="172.90" stroke-width="0.9"/><line x1="418.80" y1="457.30" x2="418.80" y2="459.70" stroke-width="0.9"/><line x1="441.10" y1="457.30" x2="441.10" y2="459.70" stroke-width="0.9"/><line x1="463.40" y1="457.30" x2="463.40" y2="459.70" stroke-width="0.9"/><line x1="485.70" y1="457.30" x2="485.70" y2="459.70" stroke-width="0.9"/><line x1="508.00" y1="457.30" x2="508.00" y2="453.10" stroke-width="1.1"/><line x1="530.30" y1="457.30" x2="530.30" y2="459.70" stroke-width="0.9"/></g>
<rect x="77.5" y="5.5" width="304.70" height="141.20" fill="none" stroke="#000" stroke-width="1.2"/>
<rect x="77.5" y="160.7" width="304.70" height="296.70" fill="none" stroke="#000" stroke-width="1.2"/>
<rect x="396.6" y="160.8" width="144.80" height="296.50" fill="none" stroke="#000" stroke-width="1.2"/>
<text x="73.6" y="153.8" font-size="20.2" text-anchor="end">0</text>
<text x="73.6" y="62.9" font-size="20.2" text-anchor="end">50</text>
<text x="73.6" y="192.4" font-size="20.2" text-anchor="end">0.6</text>
<text x="73.6" y="242.0" font-size="20.2" text-anchor="end">0.4</text>
<text x="73.6" y="291.6" font-size="20.2" text-anchor="end">0.2</text>
<text x="73.6" y="341.2" font-size="20.2" text-anchor="end">0.0</text>
<text x="73.6" y="390.8" font-size="20.2" text-anchor="end">0.2</text>
<text transform="translate(33.44,391.9) scale(1.3,1)" font-size="20.2">−</text>
<text x="73.6" y="440.4" font-size="20.2" text-anchor="end">0.4</text>
<text transform="translate(33.44,441.5) scale(1.3,1)" font-size="20.2">−</text>
<text x="80.2" y="475.7" font-size="20.2">2</text>
<text transform="translate(65.14,476.8) scale(1.3,1)" font-size="20.2">−</text>
<text x="139.4" y="475.7" font-size="20.2">1</text>
<text transform="translate(124.34,476.8) scale(1.3,1)" font-size="20.2">−</text>
<text x="195.9" y="475.7" font-size="20.2" text-anchor="middle">0</text>
<text x="255.1" y="475.7" font-size="20.2" text-anchor="middle">1</text>
<text x="314.3" y="475.7" font-size="20.2" text-anchor="middle">2</text>
<text x="373.5" y="475.7" font-size="20.2" text-anchor="middle">3</text>
<text x="396.4" y="475.9" font-size="20.2" text-anchor="middle">0</text>
<text x="507.8" y="475.9" font-size="20.2" text-anchor="middle">50</text>
<text x="230" y="500.1" font-size="21.5" text-anchor="middle" textLength="119.5" lengthAdjust="spacing">log<tspan font-size="15.48" dy="4.3">10</tspan><tspan dy="-4.3">(T</tspan><tspan font-size="15.48" dy="4.3">90</tspan><tspan dy="-4.3">) (s)</tspan></text>
<text transform="translate(21.2,311) rotate(-90)" font-size="21.5" text-anchor="middle" textLength="110.7" lengthAdjust="spacing">log<tspan font-size="15.48" dy="4.3">10</tspan><tspan dy="-4.3">(HR</tspan><tspan font-size="15.48" dy="4.3">32</tspan><tspan dy="-4.3">)</tspan></text>
<text transform="translate(46.6,76.4) rotate(-90) scale(0.84,1)" font-size="23.4" text-anchor="middle">N</text>
<text transform="translate(469.2,499.5) scale(0.84,1)" font-size="23.4" text-anchor="middle">N</text>
<text x="378" y="542.8" font-size="16.3" text-anchor="middle" letter-spacing="0.5">(<tspan font-weight="bold">b</tspan>)</text>
</svg>
</body></html>
